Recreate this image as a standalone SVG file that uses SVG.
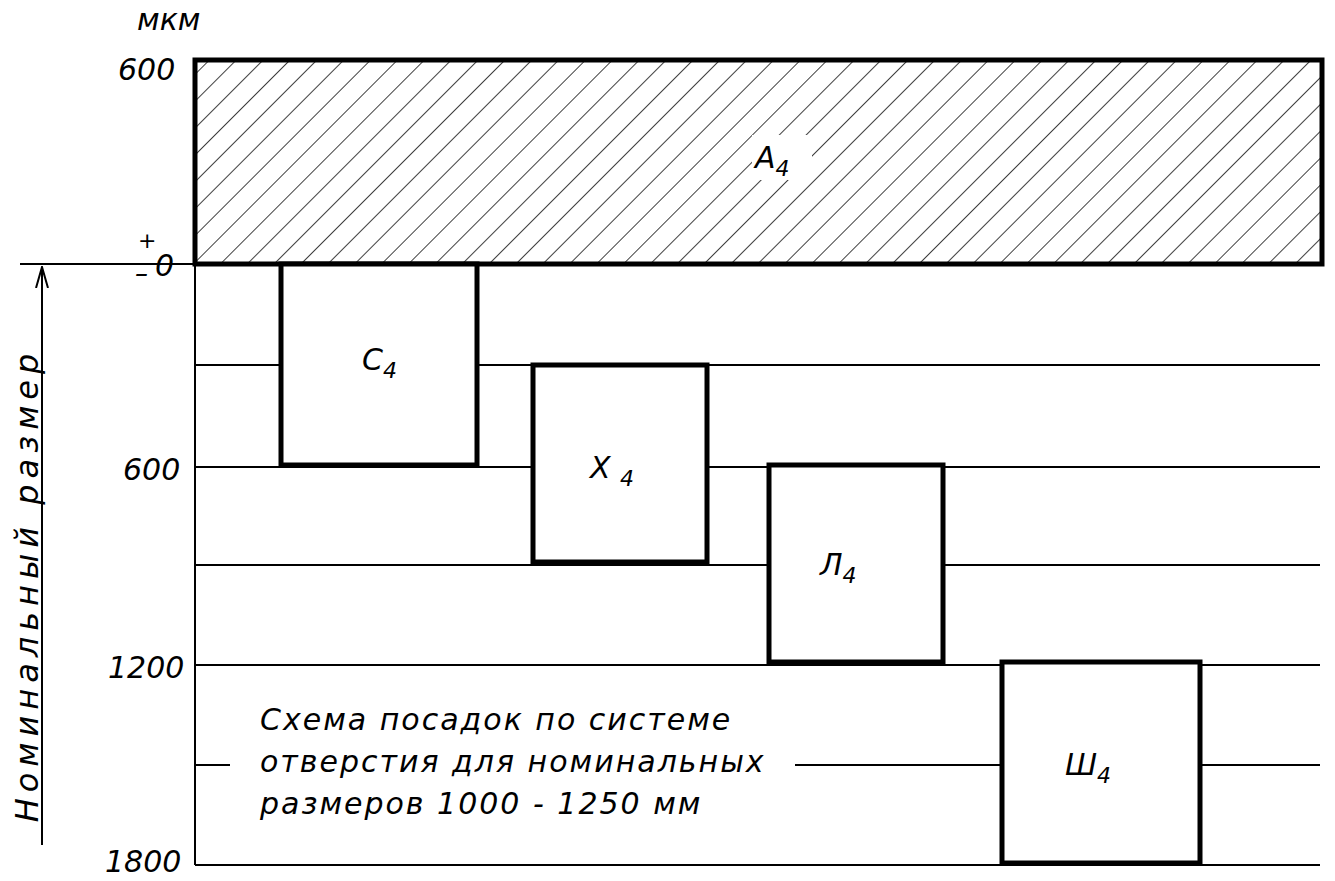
<svg xmlns="http://www.w3.org/2000/svg" width="1335" height="881" viewBox="0 0 1335 881">
<style>
text{font-family:"DejaVu Sans",sans-serif;font-style:italic;fill:#000}
.t{font-size:30px}
.l{font-size:30px;letter-spacing:2px}
.thin{stroke:#000;stroke-width:2;fill:none}
.box{stroke:#000;stroke-width:5;fill:#fff}
</style>
<defs>
<pattern id="h" width="19" height="19" patternUnits="userSpaceOnUse" patternTransform="rotate(45)">
<rect width="19" height="19" fill="#fff"/><line x1="0" y1="0" x2="0" y2="19" stroke="#000" stroke-width="1.5"/>
</pattern>
<marker id="a" markerWidth="22" markerHeight="14" refX="21" refY="7" orient="auto" markerUnits="userSpaceOnUse"><path d="M0,1 L21,7 L0,13" fill="none" stroke="#000" stroke-width="2"/></marker>
</defs>
<g id="connectors">
<path class="thin" d="M195,264V865M195,365H1320M195,467H1320M195,565H1320M195,665H1320M195,865H1320M195,765H230M795,765H1002M1200,765H1320M20,264H195"/>
<line x1="42" y1="845" x2="42" y2="267" class="thin" marker-end="url(#a)"/>
</g>
<g id="A4"><rect x="195" y="60" width="1127" height="204" fill="url(#h)" stroke="#000" stroke-width="5"/>
<rect x="752" y="135" width="60" height="45" fill="#fff"/>
<text x="755" y="168" class="t">A<tspan font-size="22" dy="8">4</tspan></text></g>
<g id="C4"><rect class="box" x="281" y="264" width="196" height="201"/><text x="362" y="370" class="t">C<tspan font-size="22" dy="8">4</tspan></text></g>
<g id="X4"><rect class="box" x="533" y="365" width="174" height="197"/><text x="590" y="478" class="t">X <tspan font-size="22" dy="8">4</tspan></text></g>
<g id="L4"><rect class="box" x="769" y="465" width="174" height="197"/><text x="820" y="575" class="t">Л<tspan font-size="22" dy="8">4</tspan></text></g>
<g id="Sh4"><rect class="box" x="1002" y="662" width="198" height="201"/><text x="1065" y="775" class="t">Ш<tspan font-size="22" dy="8">4</tspan></text></g>
<g id="labels">
<text x="137" y="30" class="t">мкм</text>
<text x="118" y="80" class="t">600</text>
<text x="138" y="248" font-size="22">+</text>
<text x="135" y="282" font-size="26">–</text>
<text x="155" y="276" class="t">0</text>
<text x="123" y="480" class="t">600</text>
<text x="108" y="678" class="t">1200</text>
<text x="105" y="872" class="t">1800</text>
<text transform="translate(38,585) rotate(-90)" text-anchor="middle" font-size="32" letter-spacing="6">Номинальный размер</text>
<text x="260" y="730" class="l">Схема посадок по системе</text>
<text x="260" y="772" class="l">отверстия для номинальных</text>
<text x="260" y="814" class="l">размеров 1000 - 1250 мм</text>
</g>
</svg>
